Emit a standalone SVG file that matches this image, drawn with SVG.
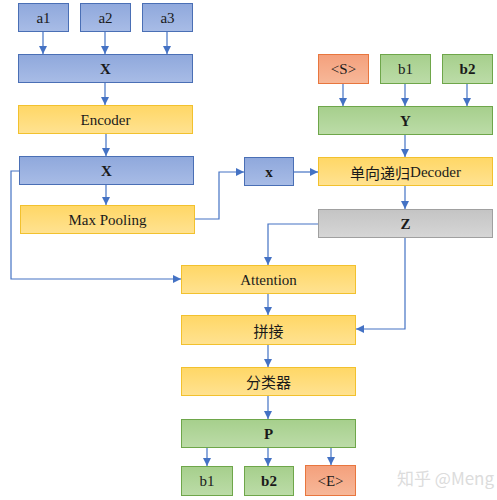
<svg xmlns="http://www.w3.org/2000/svg" width="497" height="500" viewBox="0 0 497 500">
<defs>
<linearGradient id="gb" x1="0" y1="0" x2="0" y2="1"><stop offset="0" stop-color="#8fa8dc"/><stop offset="1" stop-color="#a8bce6"/></linearGradient>
<linearGradient id="go" x1="0" y1="0" x2="0" y2="1"><stop offset="0" stop-color="#ffd766"/><stop offset="1" stop-color="#ffe291"/></linearGradient>
<linearGradient id="gg" x1="0" y1="0" x2="0" y2="1"><stop offset="0" stop-color="#a6cf8c"/><stop offset="1" stop-color="#bcdca8"/></linearGradient>
<linearGradient id="gr" x1="0" y1="0" x2="0" y2="1"><stop offset="0" stop-color="#f4a07c"/><stop offset="1" stop-color="#f7b899"/></linearGradient>
<linearGradient id="gz" x1="0" y1="0" x2="0" y2="1"><stop offset="0" stop-color="#c4c4c4"/><stop offset="1" stop-color="#d6d6d6"/></linearGradient>
<marker id="ah" viewBox="0 0 8 8" refX="8" refY="4" markerWidth="8" markerHeight="8" markerUnits="userSpaceOnUse" orient="auto"><path d="M0,0 L8,4 L0,8 z" fill="#4472c4"/></marker>
</defs>
<style>
.b{fill:url(#gb);stroke:#4a6fb5;stroke-width:1}
.o{fill:url(#go);stroke:#f2c12e;stroke-width:1}
.g{fill:url(#gg);stroke:#6ea64a;stroke-width:1}
.r{fill:url(#gr);stroke:#e8763e;stroke-width:1}
.z{fill:url(#gz);stroke:#a0a0a0;stroke-width:1}
text{font-family:'Liberation Serif','DejaVu Serif',serif;font-size:15px;fill:#1a1a1a;text-anchor:middle;dominant-baseline:central}
.bd{font-weight:bold}
.cn{font-family:'Noto Sans CJK SC',sans-serif;font-size:15px}
#conn path{fill:none;stroke:#4472c4;stroke-width:1.2;marker-end:url(#ah)}
text.wm{font-family:'Noto Sans CJK SC',sans-serif;font-size:17px;fill:#dcdcdc;text-anchor:start}
</style>
<g id="conn">
<path d="M43,31 V54"/>
<path d="M105,31 V54"/>
<path d="M167,31 V54"/>
<path d="M105,82 V105"/>
<path d="M106,133 V156"/>
<path d="M106,184 V205"/>
<path d="M19,171 H11 V279 H181"/>
<path d="M194,219 H219 V172 H244"/>
<path d="M293,172 H318"/>
<path d="M343,83 V106"/>
<path d="M405,83 V106"/>
<path d="M467,83 V106"/>
<path d="M405,134 V157"/>
<path d="M405,185 V209"/>
<path d="M318,224 H268 V265"/>
<path d="M405,237 V329 H356"/>
<path d="M268,293 V315"/>
<path d="M268,344 V367"/>
<path d="M268,395 V419"/>
<path d="M207,447 V466"/>
<path d="M268,447 V466"/>
<path d="M331,447 V465"/>
</g>
<g id="a1"><rect class="b" x="18.5" y="3.5" width="50" height="28"/><text x="43.5" y="17.5">a1</text></g>
<g id="a2"><rect class="b" x="80.5" y="3.5" width="50" height="28"/><text x="105.5" y="17.5">a2</text></g>
<g id="a3"><rect class="b" x="142.5" y="3.5" width="50" height="28"/><text x="167.5" y="17.5">a3</text></g>
<g id="X1"><rect class="b" x="18.5" y="54.5" width="174" height="28"/><text class="bd" x="105.5" y="68.5">X</text></g>
<g id="encoder"><rect class="o" x="18.5" y="105.5" width="174" height="28"/><text x="105.5" y="119.5">Encoder</text></g>
<g id="X2"><rect class="b" x="19.5" y="156.5" width="174" height="28"/><text class="bd" x="106.5" y="170.5">X</text></g>
<g id="maxpool"><rect class="o" x="20.5" y="205.5" width="174" height="28"/><text x="107.5" y="219.5">Max Pooling</text></g>
<g id="xs"><rect class="b" x="244.5" y="157.5" width="49" height="28"/><text class="bd" x="269" y="171.5">x</text></g>
<g id="S"><rect class="r" x="318.5" y="54.5" width="50" height="29"/><text x="343.5" y="69">&lt;S&gt;</text></g>
<g id="b1top"><rect class="g" x="380.5" y="54.5" width="50" height="29"/><text x="405.5" y="69">b1</text></g>
<g id="b2top"><rect class="g" x="442.5" y="54.5" width="50" height="29"/><text class="bd" x="467.5" y="69">b2</text></g>
<g id="Y"><rect class="g" x="318.5" y="106.5" width="174" height="28"/><text class="bd" x="405.5" y="120.5">Y</text></g>
<g id="decoder"><rect class="o" x="318.5" y="157.5" width="174" height="28"/><text x="405.5" y="171.5"><tspan class="cn">单向递归</tspan>Decoder</text></g>
<g id="Z"><rect class="z" x="318.5" y="209.5" width="174" height="28"/><text class="bd" x="405.5" y="223.5">Z</text></g>
<g id="attention"><rect class="o" x="181.5" y="265.5" width="174" height="28"/><text x="268.5" y="279.5">Attention</text></g>
<g id="concat"><rect class="o" x="181.5" y="315.5" width="174" height="29"/><text class="cn" x="268.5" y="330">拼接</text></g>
<g id="classifier"><rect class="o" x="181.5" y="367.5" width="174" height="28"/><text class="cn" x="268.5" y="381.5">分类器</text></g>
<g id="P"><rect class="g" x="181.5" y="419.5" width="174" height="28"/><text class="bd" x="268.5" y="433.5">P</text></g>
<g id="b1bot"><rect class="g" x="181.5" y="466.5" width="51" height="29"/><text x="207" y="481">b1</text></g>
<g id="b2bot"><rect class="g" x="244.5" y="466.5" width="49" height="29"/><text class="bd" x="269" y="481">b2</text></g>
<g id="E"><rect class="r" x="305.5" y="465.5" width="50" height="30"/><text x="330.5" y="480.5">&lt;E&gt;</text></g>
<text class="wm" x="397" y="477">知乎 @Meng</text>
</svg>
